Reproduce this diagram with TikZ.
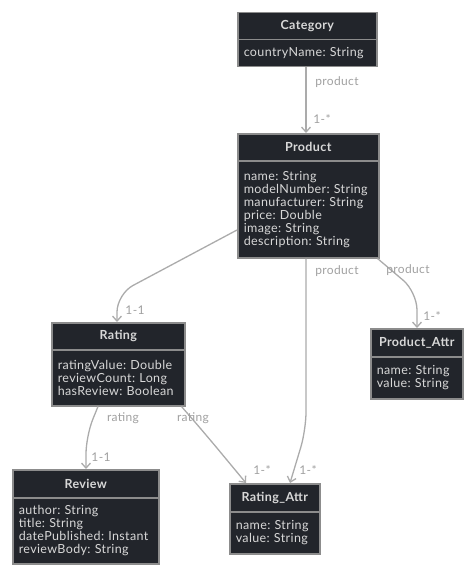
\documentclass[tikz,border=0pt]{standalone}
\usepackage{fontspec}
\setmainfont{Lato}[LetterSpace=3]
\usetikzlibrary{arrows.meta}
\definecolor{boxfill}{HTML}{22252B}
\definecolor{boxline}{HTML}{8C8C8C}
\definecolor{boxtext}{HTML}{D8D8D8}
\definecolor{conn}{HTML}{ABABAB}
\definecolor{lbl}{HTML}{A0A0A0}
\tikzset{
  hdr/.style={draw=boxline, line width=1.5pt, fill=boxfill, text=boxtext, font=\bfseries\fontsize{12.5}{13}\selectfont, anchor=north west, inner sep=0pt},
  body/.style={draw=boxline, line width=1.5pt, fill=boxfill, text=boxtext, font=\fontsize{12.5}{13}\selectfont, anchor=north west, align=left, inner xsep=6pt, inner ysep=0pt},
  conn/.style={draw=conn, line width=1.3pt, rounded corners=18pt, -{Straight Barb[length=5pt,width=9pt,line width=1.3pt]}},
  lab/.style={text=lbl, font=\fontsize{12}{13}\selectfont, inner sep=0pt}
}
\frenchspacing
\begin{document}
\begin{tikzpicture}[x=1pt,y=-1pt]
\useasboundingbox (0,0) rectangle (474,578);
% Category
\node[hdr, minimum width=139pt, minimum height=27pt] (catH) at (237,12) {Category};
\node[body, text width=127pt, minimum height=27pt] (catB) at (237,39) {countryName: String};
% Product
\node[hdr, minimum width=141pt, minimum height=27pt] (prodH) at (237,133) {Product};
\node[body, text width=129pt, minimum height=97pt] (prodB) at (237,160) {name: String\\modelNumber: String\\manufacturer: String\\price: Double\\image: String\\description: String};
% Rating
\node[hdr, minimum width=133pt, minimum height=27pt] (ratH) at (51,322) {Rating};
\node[body, text width=121pt, minimum height=56pt] (ratB) at (51,349) {ratingValue: Double\\reviewCount: Long\\hasReview: Boolean};
% Review
\node[hdr, minimum width=146pt, minimum height=28pt] (revH) at (12,469) {Review};
\node[body, text width=134pt, minimum height=66pt] (revB) at (12,497) {author: String\\title: String\\datePublished: Instant\\reviewBody: String};
% Rating_Attr
\node[hdr, minimum width=90pt, minimum height=28pt] (raH) at (229,483) {Rating\_Attr};
\node[body, text width=78pt, minimum height=42pt] (raB) at (229,511) {name: String\\value: String};
% Product_Attr
\node[hdr, minimum width=92pt, minimum height=28pt] (paH) at (370,328) {Product\_Attr};
\node[body, text width=80pt, minimum height=42pt] (paB) at (370,356) {name: String\\value: String};
% connectors
\draw[conn] (catB.south -| 306,0) -- (prodH.north -| 306,0);
\draw[conn] (prodB.west |- 0,230) -- (117,294) -- (ratH.north -| 117,0);
\draw[conn] (prodB.south -| 306,0) -- (306,430) -- (raH.north -| 290,0);
\draw[conn] (prodB.south east) ++(-2,0) -- (417,292) -- (paH.north -| 417,0);
\draw[conn] (ratB.south -| 98,0) -- (86,436) -- (revH.north -| 86,0);
\draw[conn] (ratB.south east) ++(-4,0) -- (207,436) -- (raH.north -| 246,0);
% labels
\node[lab] (l1) at (337,82) {product};
\node[lab] (l2) at (322,119) {1-*};
\node[lab] (l3) at (135,310) {1-1};
\node[lab] (l4) at (337,271) {product};
\node[lab] (l5) at (408,270) {product};
\node[lab] (l6) at (432,316) {1-*};
\node[lab] (l7) at (123,418) {rating};
\node[lab] (l8) at (193,418) {rating};
\node[lab] (l9) at (101,457) {1-1};
\node[lab] (l10) at (262,470) {1-*};
\node[lab] (l11) at (308,470) {1-*};
\end{tikzpicture}
\end{document}
